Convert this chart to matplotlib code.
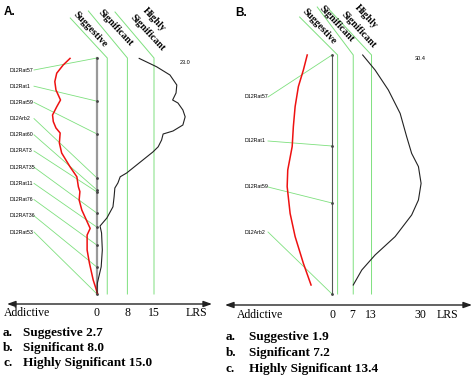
import numpy as np
import matplotlib
matplotlib.use('Agg')
import matplotlib.pyplot as plt

W, H = 474, 379

# ---- panel A data ----
markers_a = ['D12Rat57', 'D12Rat1', 'D12Rat59', 'D12Arb2', 'D12Rat60', 'D12RAT3',
             'D12RAT35', 'D12Rat11', 'D12Rat76', 'D12RAT36', 'D12Rat53']
pos_a = [0.0, 10.8, 19.0, 30.0, 33.0, 33.5, 38.8, 42.3, 46.8, 52.3, 59.0]
thresholds_a = [2.7, 8.0, 15.0]
ticks_a = ['0', '8', '15']
tickvals_a = [0, 8, 15]
peak_a = '23.0'
lrs_pos_a = [0.1, 2.2, 4.25, 6.75, 8.75, 10.5, 11.25, 13.0, 14.7, 16.75, 18.25, 19.0, 20.5,
             22.2, 23.5, 28.75, 29.7, 31.25, 32.5, 34.7, 37.2, 40.0, 42.0, 43.75, 48.0,
             52.2, 56.25, 58.75]
lrs_a = [11.1, 15.7, 19.2, 21.0, 20.8, 19.9, 21.3, 22.6, 23.2, 22.6, 20.0, 17.4, 17.0,
         16.1, 14.7, 7.8, 6.1, 5.5, 4.7, 4.5, 4.2, 2.6, 0.8, 1.2, 1.4, 1.1, 0.1, 0.0]
add_pos_a = [0.1, 1.75, 3.8, 5.9, 8.0, 10.5, 12.2, 14.25, 15.9, 17.5, 18.75, 21.25, 23.75,
             27.2, 29.7, 32.2, 33.4, 35.5, 38.0, 42.6, 44.25, 48.0, 51.25, 55.5, 58.75]
add_a = [-7.1, -8.9, -10.6, -11.1, -10.8, -9.6, -10.6, -11.7, -11.5, -10.8, -9.7, -9.9, -9.3,
         -7.1, -5.3, -4.9, -4.5, -4.7, -4.0, -1.8, -2.6, -2.6, -2.0, -1.0, 0.1]
legend_a = ['Suggestive 2.7', 'Significant 8.0', 'Highly Significant 15.0']

# ---- panel B data ----
markers_b = ['D12Rat57', 'D12Rat1', 'D12Rat59', 'D12Arb2']
pos_b = [0.0, 22.75, 37.0, 59.75]
thresholds_b = [1.9, 7.2, 13.4]
ticks_b = ['0', '7', '13', '30']
tickvals_b = [0, 7, 13, 30]
peak_b = '30.4'
lrs_pos_b = [0, 3.75, 8.75, 14.6, 20.4, 24.6, 27.9, 32.1, 36.25, 40.0, 45.4, 50.0, 53.75, 57.5]
lrs_b = [10.4, 14.6, 19.1, 23.1, 25.3, 27.0, 29.3, 30.2, 29.3, 27.0, 21.4, 14.6, 10.1, 7.2]
add_pos_b = [0, 3.75, 7.9, 12.9, 17.9, 22.9, 28.75, 32.9, 39.6, 45.4, 52.1, 57.5]
add_b = [-8.4, -9.7, -11.4, -12.5, -13.1, -13.5, -15.0, -15.2, -14.2, -12.5, -9.7, -7.1]
legend_b = ['Suggestive 1.9', 'Significant 7.2', 'Highly Significant 13.4']

thr_words = ['Suggestive', 'Significant', 'Highly', 'Significant']

GREEN = '#7ee07e'
SERIF = 'Liberation Serif'
SANS = 'Liberation Sans'

fig = plt.figure(figsize=(W / 100, H / 100), dpi=100)


def draw_panel(lay, markers, pos, thr, tickvals, ticks, peak, lrs_pos, lrs, add_pos, add, legend):
    px0, sx, py0, sy = lay['px0'], lay['sx'], lay['py0'], lay['sy']
    left, right = lay['rect']
    ax = fig.add_axes([left / W, 0, (right - left) / W, 1])
    ax.set_xlim((left - px0) / sx, (right - px0) / sx)
    ax.set_ylim((H - py0) / sy, (0 - py0) / sy)
    ax.axis('off')
    fx = lambda p: (p - px0) / sx
    fy = lambda p: (p - py0) / sy

    bottom = fy(lay['bottom'])
    # threshold lines, bent up-left at the top
    for i, t in enumerate(thr):
        dx, dy = lay['diag'][i]
        xe, ye = fx(px0 + t * sx + dx), fy(py0 + dy)
        ax.plot([t, t, xe], [bottom, 0, ye], color=GREEN, lw=0.7, zorder=1)
    # slanted threshold names
    for word, (cx, cy) in zip(thr_words, lay['thr_text']):
        ax.text(fx(cx), fy(cy), word, rotation=-47, rotation_mode='anchor',
                ha='center', va='center', fontsize=7.2, fontweight='bold', family=SERIF)

    # chromosome
    ax.plot([0, 0], [pos[0], pos[-1]], color=lay['chrom_col'], lw=lay['chrom_lw'], zorder=2)
    ax.plot(np.zeros(len(pos)), pos, ls='none', marker='.', ms=2, color='#444444', zorder=3)

    # marker labels and connectors
    for name, p, ly in zip(markers, pos, lay['label_y']):
        ax.text(fx(lay['label_x']), fy(ly), name, fontsize=3.8, family=SANS,
                ha='left', va='center')
        ax.plot([fx(lay['line_x']), 0], [fy(ly), p], color=GREEN, lw=0.6, zorder=1)

    # curves
    ax.plot(add, add_pos, color='#ee1111', lw=1.1, zorder=4)
    ax.plot(lrs, lrs_pos, color='#222222', lw=0.8, zorder=4)
    ax.text(fx(lay['peak_xy'][0]), fy(lay['peak_xy'][1]), peak, fontsize=4, family=SANS,
            ha='left', va='center')

    # bottom axis arrow
    ya = fy(lay['arrow_y'])
    ax.annotate('', xy=(fx(lay['arrow_x'][1]), ya), xytext=(fx(lay['arrow_x'][0]), ya),
                arrowprops=dict(arrowstyle='<|-|>,head_length=0.5,head_width=0.18',
                                color='#222222', lw=1.0, shrinkA=0, shrinkB=0),
                annotation_clip=False)
    yl = fy(lay['axis_lab_y'])
    ax.text(fx(lay['addictive_x']), yl, 'Addictive', fontsize=8.5, family=SERIF,
            ha='left', va='center')
    for v, s in zip(tickvals, ticks):
        ax.text(v, yl, s, fontsize=8.5, family=SERIF, ha='center', va='center')
    ax.text(fx(lay['lrs_x']), yl, 'LRS', fontsize=8.5, family=SERIF, ha='left', va='center')

    # legend lines
    for letter, txt, ly in zip(['a.', 'b.', 'c.'], legend, lay['legend_y']):
        ax.text(fx(lay['legend_x'][0]), fy(ly), letter, fontsize=9.5, fontweight='bold',
                family=SERIF, ha='left', va='center')
        ax.text(fx(lay['legend_x'][1]), fy(ly), txt, fontsize=9.5, fontweight='bold',
                family=SERIF, ha='left', va='center')

    ax.text(fx(lay['letter_xy'][0]), fy(lay['letter_xy'][1]), lay['letter'], fontsize=8.5,
            fontweight='bold', family=SANS, ha='left', va='center')
    return ax


layout_a = dict(px0=97, sx=3.8, py0=58, sy=4, rect=(0, 232), bottom=294,
                diag=[(-37, -40), (-39, -47), (-39, -46)],
                thr_text=[(90, 29), (116, 27.5), (154.5, 20), (147.5, 33)],
                chrom_col='#999999', chrom_lw=1.6,
                label_x=10, line_x=34, label_y=[70 + 16.2 * i for i in range(11)],
                peak_xy=(180, 62), arrow_y=304, arrow_x=(7, 212), axis_lab_y=313,
                addictive_x=4, lrs_x=186, legend_x=(3, 23), legend_y=[333, 348, 363],
                letter='A.', letter_xy=(4, 12))
layout_b = dict(px0=332, sx=2.95, py0=55, sy=4, rect=(220, 474), bottom=294,
                diag=[(-38, -38), (-36, -48), (-42, -45)],
                thr_text=[(319, 26), (336.5, 24), (366, 16.5), (359, 29.5)],
                chrom_col='#555555', chrom_lw=0.8,
                label_x=245, line_x=268, label_y=[97, 141, 187, 232],
                peak_xy=(415, 59), arrow_y=305, arrow_x=(225, 472), axis_lab_y=315,
                addictive_x=237, lrs_x=437, legend_x=(226, 249), legend_y=[337, 353, 369],
                letter='B.', letter_xy=(235, 13))

draw_panel(layout_a, markers_a, pos_a, thresholds_a, tickvals_a, ticks_a, peak_a,
           lrs_pos_a, lrs_a, add_pos_a, add_a, legend_a)
draw_panel(layout_b, markers_b, pos_b, thresholds_b, tickvals_b, ticks_b, peak_b,
           lrs_pos_b, lrs_b, add_pos_b, add_b, legend_b)

fig.savefig('out.png', dpi=100)
